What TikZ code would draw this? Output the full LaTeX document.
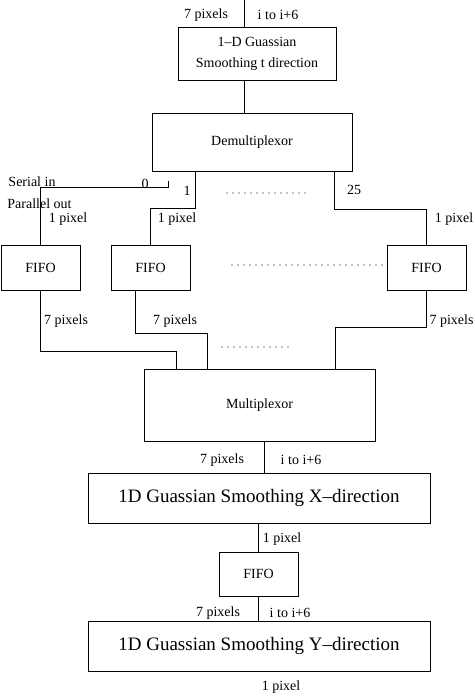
\documentclass[tikz,border=0pt]{standalone}
\usepackage{fontspec}
\setmainfont{Liberation Serif}

\begin{document}
\begin{tikzpicture}[
        x=1pt, y=-1pt,
        block/.style={rectangle, draw, line width=0.8pt, inner sep=0pt, align=center, font=\fontsize{14}{21}\selectfont},
        bigblock/.style={block, font=\fontsize{19}{22}\selectfont},
        lbl/.style={inner sep=0pt, font=\fontsize{14}{16}\selectfont},
        wire/.style={line width=0.8pt},
        dots/.style={line width=1.1pt, line cap=round, dash pattern=on 0pt off 6pt}
    ]
        \useasboundingbox (0,0) rectangle (474,696);

        % Top smoothing stage
        \node[block, minimum width=158pt, minimum height=53pt] (tsmooth) at (257,53.5) {1--D Guassian\\Smoothing t direction};
        \coordinate (in) at (244,0);

        % Demultiplexor and FIFO bank
        \node[block, minimum width=200pt, minimum height=58pt] (demux) at (252,142) {Demultiplexor};
        \node[block, minimum width=79pt, minimum height=45pt] (fifoA) at (40.5,267.5) {FIFO};
        \node[block, minimum width=79pt, minimum height=45pt] (fifoB) at (150.5,267.5) {FIFO};
        \node[block, minimum width=79pt, minimum height=45pt] (fifoC) at (426.5,267.5) {FIFO};
        \coordinate (serial) at (168,181);

        % Multiplexor and the two final stages
        \node[block, minimum width=231pt, minimum height=72pt] (mux) at (259.5,405) {Multiplexor};
        \node[bigblock, minimum width=342pt, minimum height=50pt] (xsmooth) at (259,498) {1D Guassian Smoothing X--direction};
        \node[block, minimum width=79pt, minimum height=44pt] (fifoD) at (258.5,574) {FIFO};
        \node[bigblock, minimum width=342pt, minimum height=50pt] (ysmooth) at (259,646) {1D Guassian Smoothing Y--direction};

        % Connections
        \draw[wire] (in) -- (in |- tsmooth.north);
        \draw[wire] (tsmooth.south -| in) -- (demux.north -| in);
        \draw[wire] (serial) -- ++(0,6) -| (fifoA.north);
        \draw[wire] ([xshift=-57pt]demux.south) -- ++(0,37) -| (fifoB.north);
        \draw[wire] ([xshift=82pt]demux.south) -- ++(0,38) -| (fifoC.north);
        \draw[wire] (fifoA.south) -- ++(0,61) -| ([xshift=-83.5pt]mux.north);
        \draw[wire] ([xshift=-15.5pt]fifoB.south) -- ++(0,43) -| ([xshift=-52.5pt]mux.north);
        \draw[wire] (fifoC.south) -- ++(0,37) -| ([xshift=75.5pt]mux.north);
        \draw[wire] ([xshift=4.5pt]mux.south) -- ([xshift=4.5pt]mux.south |- xsmooth.north);
        \draw[wire] (fifoD.north |- xsmooth.south) -- (fifoD.north);
        \draw[wire] (fifoD.south) -- (fifoD.south |- ysmooth.north);

        % Dotted gaps for the omitted channels
        \draw[dots] (227,193) -- (305,193);
        \draw[dots] (232,265) -- (382,265);
        \draw[dots] (222,347) -- (293,347);

        % Labels
        \node[lbl] (topw) at (206,15) {7 pixels};
        \node[lbl] (topr) at (278,15) {i to i+6};
        \node[lbl] (serin) at (32,182) {Serial in};
        \node[lbl] (ch0) at (145,184) {0};
        \node[lbl] (ch1) at (187,191) {1};
        \node[lbl] (ch25) at (354,190) {25};
        \node[lbl] (parout) at (39.5,204) {Parallel out};
        \node[lbl] (pixA) at (68,219) {1 pixel};
        \node[lbl] (pixB) at (177,219) {1 pixel};
        \node[lbl] (pixC) at (454,219) {1 pixel};
        \node[lbl] (sevA) at (66,321) {7 pixels};
        \node[lbl] (sevB) at (175,321) {7 pixels};
        \node[lbl] (sevC) at (451.5,321) {7 pixels};
        \node[lbl] (muxw) at (222,460) {7 pixels};
        \node[lbl] (muxr) at (301,460) {i to i+6};
        \node[lbl] (xout) at (282,539) {1 pixel};
        \node[lbl] (fifow) at (218,613) {7 pixels};
        \node[lbl] (fifor) at (290,613) {i to i+6};
        \node[lbl] (yout) at (281,687) {1 pixel};

    \end{tikzpicture}
\end{document}
